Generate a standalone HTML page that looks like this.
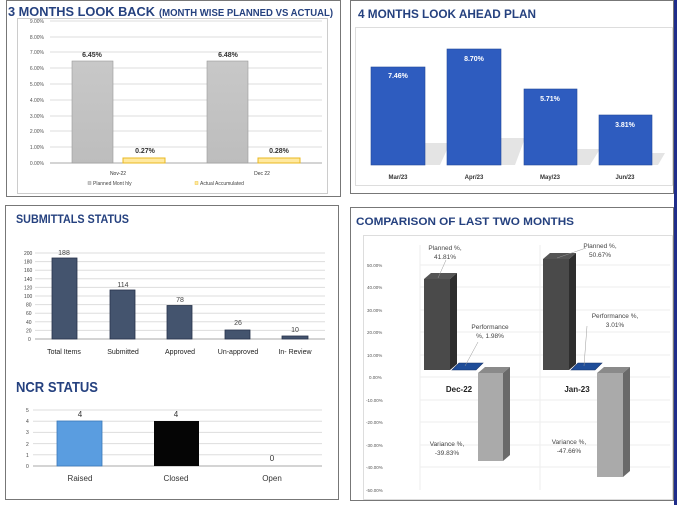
<!DOCTYPE html>
<html><head><meta charset="utf-8"><style>
body{margin:0;background:#fff;}
svg{display:block;font-family:"Liberation Sans",sans-serif;}
</style></head><body>
<svg width="680" height="505" viewBox="0 0 680 505" xmlns="http://www.w3.org/2000/svg">
<rect width="680" height="505" fill="#fff"/>
<!-- panel borders -->
<rect x="6.5" y="0.5" width="334" height="196" fill="none" stroke="#777"/>
<rect x="350.5" y="0.5" width="323" height="193" fill="none" stroke="#777"/>
<rect x="674" y="0" width="3" height="505" fill="#1f2d8a"/>
<rect x="5.5" y="205.5" width="333" height="294" fill="none" stroke="#777"/>
<rect x="350.5" y="207.5" width="323" height="293" fill="none" stroke="#777"/>

<!-- TOP LEFT -->
<text x="8" y="16" font-size="13" font-weight="bold" fill="#25417f" textLength="147" lengthAdjust="spacingAndGlyphs">3 MONTHS LOOK BACK</text>
<text x="159" y="16" font-size="10" font-weight="bold" fill="#25417f" textLength="174" lengthAdjust="spacingAndGlyphs">(MONTH WISE PLANNED VS ACTUAL)</text>
<rect x="17.5" y="18.5" width="310" height="175" fill="none" stroke="#ccc"/>
<g stroke="#ddd" stroke-width="1">
<line x1="50" x2="322" y1="21" y2="21"/><line x1="50" x2="322" y1="37" y2="37"/><line x1="50" x2="322" y1="52" y2="52"/><line x1="50" x2="322" y1="68" y2="68"/><line x1="50" x2="322" y1="84" y2="84"/><line x1="50" x2="322" y1="100" y2="100"/><line x1="50" x2="322" y1="116" y2="116"/><line x1="50" x2="322" y1="131" y2="131"/><line x1="50" x2="322" y1="147" y2="147"/><line x1="50" x2="322" y1="163" y2="163" stroke="#aaa"/>
</g>
<g font-size="5" fill="#555" text-anchor="end">
<text x="44" y="23">9.00%</text><text x="44" y="39">8.00%</text><text x="44" y="54">7.00%</text><text x="44" y="70">6.00%</text><text x="44" y="86">5.00%</text><text x="44" y="102">4.00%</text><text x="44" y="118">3.00%</text><text x="44" y="133">2.00%</text><text x="44" y="149">1.00%</text><text x="44" y="165">0.00%</text>
</g>
<defs><linearGradient id="gg" x1="0" x2="0" y1="0" y2="1"><stop offset="0" stop-color="#c8c8c8"/><stop offset="1" stop-color="#bdbdbd"/></linearGradient></defs>
<rect x="72" y="61" width="41" height="102" fill="url(#gg)" stroke="#999" stroke-width="0.6"/>
<rect x="207" y="61" width="41" height="102" fill="url(#gg)" stroke="#999" stroke-width="0.6"/>
<rect x="123" y="158" width="42" height="5" fill="#ffe9a0" stroke="#e8b820"/>
<rect x="258" y="158" width="42" height="5" fill="#ffe9a0" stroke="#e8b820"/>
<g font-size="7" font-weight="bold" fill="#333" text-anchor="middle">
<text x="92" y="57">6.45%</text><text x="228" y="57">6.48%</text>
<text x="145" y="153">0.27%</text><text x="279" y="153">0.28%</text>
</g>
<g font-size="5" fill="#333" text-anchor="middle">
<text x="118" y="175">Nov-22</text><text x="262" y="175">Dec 22</text>
</g>
<rect x="88" y="181.5" width="3" height="3" fill="#ccc" stroke="#888" stroke-width="0.4"/>
<text x="93" y="185" font-size="5" fill="#444">Planned Mont hly</text>
<rect x="195" y="181.5" width="3" height="3" fill="#ffe9a0" stroke="#e8b820" stroke-width="0.4"/>
<text x="200" y="185" font-size="5" fill="#444">Actual Accumulated</text>

<!-- TOP RIGHT -->
<text x="358" y="18" font-size="12" font-weight="bold" fill="#25417f" textLength="178" lengthAdjust="spacingAndGlyphs">4 MONTHS LOOK AHEAD PLAN</text>
<rect x="355.5" y="27.5" width="317" height="158" fill="none" stroke="#ddd"/>
<g fill="#e4e4e4">
<polygon points="425,165 425,143 450,143 440,165"/>
<polygon points="501,165 501,138 525,138 515,165"/>
<polygon points="577,165 577,149 600,149 590,165"/>
<polygon points="652,165 652,153 665,153 658,165"/>
</g>
<g fill="#2e5cbf" stroke="#24489a" stroke-width="0.6">
<rect x="371" y="67" width="54" height="98"/>
<rect x="447" y="49" width="54" height="116"/>
<rect x="524" y="89" width="53" height="76"/>
<rect x="599" y="115" width="53" height="50"/>
</g>
<g font-size="7" font-weight="bold" fill="#fff" text-anchor="middle">
<text x="398" y="78">7.46%</text><text x="474" y="61">8.70%</text><text x="550" y="101">5.71%</text><text x="625" y="127">3.81%</text>
</g>
<g font-size="6" font-weight="bold" fill="#333" text-anchor="middle">
<text x="398" y="179">Mar/23</text><text x="474" y="179">Apr/23</text><text x="550" y="179">May/23</text><text x="625" y="179">Jun/23</text>
</g>

<!-- SUBMITTALS -->
<text x="16" y="223" font-size="12" font-weight="bold" fill="#25417f" textLength="113" lengthAdjust="spacingAndGlyphs">SUBMITTALS STATUS</text>
<g stroke="#ddd">
<line x1="35" x2="325" y1="253" y2="253"/><line x1="35" x2="325" y1="261.6" y2="261.6"/><line x1="35" x2="325" y1="270.2" y2="270.2"/><line x1="35" x2="325" y1="278.8" y2="278.8"/><line x1="35" x2="325" y1="287.4" y2="287.4"/><line x1="35" x2="325" y1="296" y2="296"/><line x1="35" x2="325" y1="304.6" y2="304.6"/><line x1="35" x2="325" y1="313.2" y2="313.2"/><line x1="35" x2="325" y1="321.8" y2="321.8"/><line x1="35" x2="325" y1="330.4" y2="330.4"/><line x1="35" x2="325" y1="339" y2="339" stroke="#aaa"/>
</g>
<g font-size="5" fill="#444">
<text x="24" y="255">200</text><text x="24" y="263.6">180</text><text x="24" y="272.2">160</text><text x="24" y="280.8">140</text><text x="24" y="289.4">120</text><text x="24" y="298">100</text><text x="26" y="306.6">80</text><text x="26" y="315.2">60</text><text x="26" y="323.8">40</text><text x="26" y="332.4">20</text><text x="28" y="341">0</text>
</g>
<g fill="#44546e" stroke="#26324a" stroke-width="0.8">
<rect x="52" y="258" width="25" height="81"/>
<rect x="110" y="290" width="25" height="49"/>
<rect x="167" y="305.5" width="25" height="33.5"/>
<rect x="225" y="330" width="25" height="9"/>
<rect x="282" y="336" width="26" height="3"/>
</g>
<g font-size="7" fill="#444" text-anchor="middle">
<text x="64" y="255">188</text><text x="123" y="287">114</text><text x="180" y="302">78</text><text x="238" y="325">26</text><text x="295" y="332">10</text>
</g>
<g font-size="7" fill="#222" text-anchor="middle">
<text x="64" y="354">Total Items</text><text x="123" y="354">Submitted</text><text x="180" y="354">Approved</text><text x="238" y="354">Un-approved</text><text x="295" y="354">In- Review</text>
</g>

<!-- NCR -->
<text x="16" y="392" font-size="15" font-weight="bold" fill="#25417f" textLength="82" lengthAdjust="spacingAndGlyphs">NCR STATUS</text>
<g stroke="#ddd">
<line x1="33" x2="322" y1="410" y2="410"/><line x1="33" x2="322" y1="421.2" y2="421.2"/><line x1="33" x2="322" y1="432.4" y2="432.4"/><line x1="33" x2="322" y1="443.6" y2="443.6"/><line x1="33" x2="322" y1="454.8" y2="454.8"/><line x1="33" x2="322" y1="466" y2="466" stroke="#aaa"/>
</g>
<g font-size="5" fill="#444">
<text x="26" y="412">5</text><text x="26" y="423">4</text><text x="26" y="434">3</text><text x="26" y="446">2</text><text x="26" y="457">1</text><text x="26" y="468">0</text>
</g>
<rect x="57" y="421" width="45" height="45" fill="#5a9de0" stroke="#3a78b8" stroke-width="0.8"/>
<rect x="154" y="421" width="45" height="45" fill="#050505"/>
<g font-size="8" fill="#333" text-anchor="middle">
<text x="80" y="417">4</text><text x="176" y="417">4</text><text x="272" y="461">0</text>
<text x="80" y="481">Raised</text><text x="176" y="481">Closed</text><text x="272" y="481">Open</text>
</g>

<!-- COMPARISON -->
<text x="356" y="225" font-size="11" font-weight="bold" fill="#25417f" textLength="218" lengthAdjust="spacingAndGlyphs">COMPARISON OF LAST TWO MONTHS</text>
<rect x="363.5" y="235.5" width="309" height="264" fill="none" stroke="#ddd"/>
<g stroke="#eee">
<line x1="420" x2="670" y1="265" y2="265"/><line x1="420" x2="670" y1="287" y2="287"/><line x1="420" x2="670" y1="310" y2="310"/><line x1="420" x2="670" y1="332" y2="332"/><line x1="420" x2="670" y1="355" y2="355"/><line x1="420" x2="670" y1="377" y2="377"/><line x1="420" x2="670" y1="400" y2="400"/><line x1="420" x2="670" y1="422" y2="422"/><line x1="420" x2="670" y1="445" y2="445"/><line x1="420" x2="670" y1="467" y2="467"/>
<line x1="420" x2="420" y1="245" y2="490"/><line x1="540" x2="540" y1="245" y2="490"/>
</g>
<g font-size="4.5" fill="#555">
<text x="367" y="267">50.00%</text><text x="367" y="289">40.00%</text><text x="367" y="312">30.00%</text><text x="367" y="334">20.00%</text><text x="367" y="357">10.00%</text><text x="369" y="379">0.00%</text><text x="366" y="402">-10.00%</text><text x="366" y="424">-20.00%</text><text x="366" y="447">-30.00%</text><text x="366" y="469">-40.00%</text><text x="366" y="492">-50.00%</text>
</g>
<polygon points="424,279 431,273 457,273 450,279" fill="#555"/>
<polygon points="450,279 457,273 457,364 450,370" fill="#2e2e2e"/>
<rect x="424" y="279" width="26" height="91" fill="#4a4a4a"/>
<polygon points="452,370 459,363 483,363 476,370" fill="#1f4d99" stroke="#17336b" stroke-width="0.6"/>
<polygon points="478,373 485,367 510,367 503,373" fill="#8a8a8a"/>
<polygon points="503,373 510,367 510,455 503,461" fill="#6a6a6a"/>
<rect x="478" y="373" width="25" height="88" fill="#aaa"/>
<polygon points="543,259 550,253 576,253 569,259" fill="#555"/>
<polygon points="569,259 576,253 576,364 569,370" fill="#2e2e2e"/>
<rect x="543" y="259" width="26" height="111" fill="#4a4a4a"/>
<polygon points="571,370 578,363 602,363 595,370" fill="#1f4d99" stroke="#17336b" stroke-width="0.6"/>
<polygon points="597,373 604,367 630,367 623,373" fill="#8a8a8a"/>
<polygon points="623,373 630,367 630,471 623,477" fill="#6a6a6a"/>
<rect x="597" y="373" width="26" height="104" fill="#aaa"/>
<g stroke="#999" stroke-width="0.5">
<line x1="438" y1="278" x2="446" y2="260"/><line x1="465" y1="366" x2="478" y2="342"/>
<line x1="557" y1="258" x2="586" y2="248"/><line x1="584" y1="366" x2="587" y2="326"/>
</g>
<g font-size="6.5" fill="#444" text-anchor="middle">
<text x="445" y="250">Planned %,</text><text x="445" y="259">41.81%</text>
<text x="490" y="329">Performance</text><text x="490" y="338">%, 1.98%</text>
<text x="600" y="248">Planned %,</text><text x="600" y="257">50.67%</text>
<text x="615" y="318">Performance %,</text><text x="615" y="327">3.01%</text>
<text x="447" y="446">Variance %,</text><text x="447" y="455">-39.83%</text>
<text x="569" y="444">Variance %,</text><text x="569" y="453">-47.66%</text>
</g>
<g font-size="8" font-weight="bold" fill="#222" text-anchor="middle">
<text x="459" y="392">Dec-22</text><text x="577" y="392">Jan-23</text>
</g>
</svg>
</body></html>
